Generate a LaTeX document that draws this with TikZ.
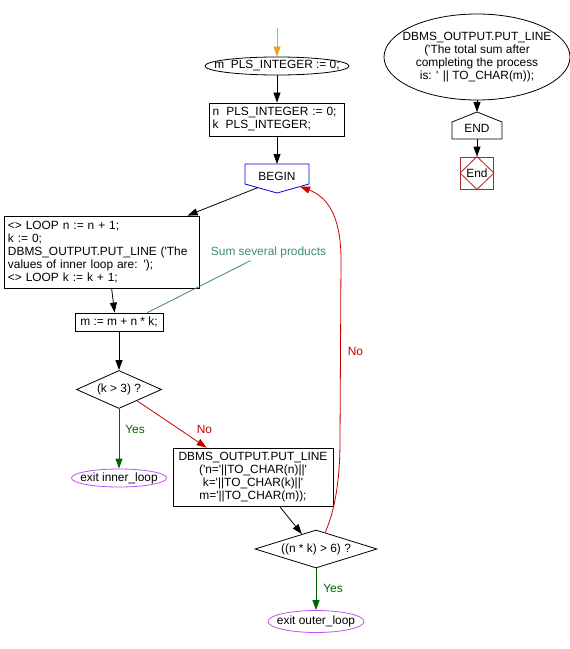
\documentclass[tikz,border=0pt]{standalone}
\usepackage{fontspec}
\setmainfont{Liberation Sans}
\usetikzlibrary{arrows.meta,shapes.geometric,calc}
\definecolor{orangec}{RGB}{240,160,30}
\definecolor{bluec}{RGB}{0,0,230}
\definecolor{redc}{RGB}{200,0,0}
\definecolor{greenc}{RGB}{0,100,0}
\definecolor{purplec}{RGB}{195,80,240}
\definecolor{notec}{RGB}{60,140,110}
\definecolor{endred}{RGB}{170,40,40}
\newcommand{\q}{\textquotesingle}
\newcommand{\dsp}{\ \hspace{3.3bp}}
\begin{document}
\begin{tikzpicture}[x=1bp,y=-1bp,line width=0.8bp,
  every node/.style={font=\fontsize{11.9bp}{13bp}\selectfont, inner sep=0pt},
  box/.style={draw, rectangle},
  oval/.style={draw, ellipse},
  dia/.style={draw, diamond},
  arr/.style={-{Triangle[length=10bp,width=7bp]}},
  exitoval/.style={draw=purplec, ellipse},
  yeslab/.style={text=greenc},
  nolab/.style={text=redc}]
\useasboundingbox (0,0) rectangle (570,649);
\fill[white] (0,0) rectangle (570,649);

% start
\coordinate (start) at (277,28);
\node[oval, minimum width=144bp, minimum height=18bp, label=center:{m\dsp PLS\_INTEGER := 0;}] (m0) at (277,66) {};
\draw[arr, orangec] (start) -- (m0);

\node[box, minimum width=135bp, minimum height=33bp, text width=129bp, align=left] (decl) at (277,119.5) {n\dsp PLS\_INTEGER := 0;\\k\dsp PLS\_INTEGER;};
\draw[arr] (m0) -- (decl);

% BEGIN
\node (begin) at (277,176.5) {BEGIN};
\coordinate (bgNW) at (245,164);
\coordinate (bgNE) at (309,164);
\coordinate (bgSE) at (309,184);
\coordinate (bgS) at (277,193);
\coordinate (bgSW) at (245,184);
\coordinate (bgTop) at (277,164);
\draw[bluec] (bgNW) -- (bgNE) -- (bgSE) -- (bgS) -- (bgSW) -- cycle;
\draw[arr] (decl) -- (bgTop);

% loop box
\node[box, minimum width=195bp, minimum height=72bp, text width=187bp, align=left] (loop) at (101.5,252) {<> LOOP n := n + 1;\\k := 0;\\DBMS\_OUTPUT.PUT\_LINE (\q The\\values of inner loop are: \q);\\<> LOOP k := k + 1;};
\draw[arr] ($(bgSW)!0.4!(bgS)$) -- ($(loop.north west)+(184,0)$);

\node[box, minimum width=88bp, minimum height=18bp] (mbox) at (119,322) {m := m + n * k;};
\draw[arr] ($(loop.south west)+(108,0)$) -- ($(mbox.north west)+(40,0)$);

% note
\node[text=notec] (note) at (268.5,252.7) {Sum several products};
\draw[notec] ($(note.south)+(-18,2)$) -- ($(mbox.north east)+(-16,0)$);

% diamond 1
\node[dia, minimum width=85bp, minimum height=38bp, label=center:{(k > 3) ?}] (d1) at (119,389.5) {};
\draw[arr] (mbox) -- (d1);

\node[exitoval, minimum width=95bp, minimum height=18bp, label=center:{exit inner\_loop}] (exin) at (119,478) {};
\draw[arr, greenc] (d1.south) -- (exin.north);
\node[yeslab] (yes1) at (135,429) {Yes};

\node[box, minimum width=160bp, minimum height=58bp, align=center] (dbms) at (253,477) {DBMS\_OUTPUT.PUT\_LINE\\(\q n=\q||TO\_CHAR(n)||\q\\k=\q||TO\_CHAR(k)||\q\\m=\q||TO\_CHAR(m));};
\draw[arr, redc] ($(d1.south)!0.42!(d1.east)$) -- ($(dbms.north west)+(34,0)$);
\node[nolab] (no1) at (204.5,429) {No};

% diamond 2
\node[dia, minimum width=122bp, minimum height=38bp, label=center:{((n * k) > 6) ?}] (d2) at (316,549) {};
\draw[arr] ($(dbms.south west)+(107,0)$) -- ($(d2.north)!0.23!(d2.west)$);

\node[exitoval, minimum width=96bp, minimum height=22bp, label=center:{exit outer\_loop}] (exout) at (316,621.5) {};
\draw[arr, greenc] (d2.south) -- (exout.north);
\node[yeslab] (yes2) at (333,588) {Yes};

\draw[arr, redc] ($(d2.north)!0.15!(d2.east)$) .. controls (335,510) and (340,480) .. (340,440) -- (341,260) .. controls (341,220) and (330,198) .. ($(bgS)!0.72!(bgSE)$);
\node[nolab] (no2) at (355.5,351) {No};

% right side
\node[oval, minimum width=186bp, minimum height=86bp, label={[align=center]center:{DBMS\_OUTPUT.PUT\_LINE\\(\q The total sum after\\completing the process\\is: \q{} || TO\_CHAR(m));}}] (fin) at (477,57) {};
\node[minimum width=50bp, minimum height=22bp] (endp) at (477,128) {END};
\coordinate (epTop) at (477,112);
\coordinate (epL) at (452,122);
\coordinate (epR) at (502,122);
\coordinate (epBL) at (452,139);
\coordinate (epBR) at (502,139);
\draw (epBL) -- (epL) -- (epTop) -- (epR) -- (epBR) -- cycle;
\draw[arr] (fin) -- (epTop);

\node[draw=endred, minimum width=33bp, minimum height=32bp] (endbox) at (477,173) {End};
\draw[endred] (endbox.north) -- (endbox.east) -- (endbox.south) -- (endbox.west) -- cycle;
\draw[arr] (endp.south) -- (endbox.north);
\end{tikzpicture}
\end{document}
